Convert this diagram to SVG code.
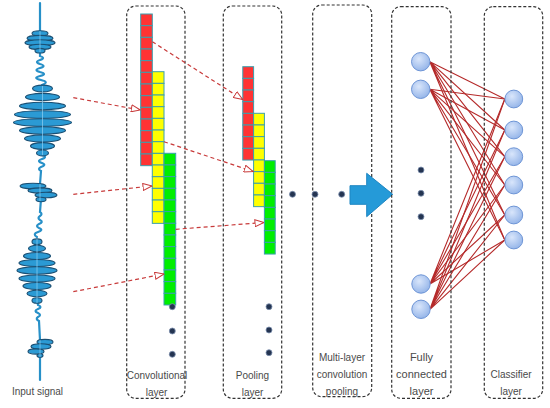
<svg xmlns="http://www.w3.org/2000/svg" width="550" height="408" viewBox="0 0 550 408">
<defs>
<style>
.box{fill:none;stroke:#333;stroke-width:1.2;stroke-dasharray:3,2}
.lbl{font-family:"Liberation Sans",Arial,sans-serif;font-size:10px;fill:#4a4a4a;text-anchor:middle}
.r{fill:#ff3333;stroke:#3a9fae;stroke-width:1}
.y{fill:#ffff00;stroke:#3a9fae;stroke-width:1}
.g{fill:#00ee00;stroke:#3a9fae;stroke-width:1}
.dot{fill:#243451;stroke:#7c8fae;stroke-width:0.8}
.node{fill:url(#ng);stroke:#6e95d6;stroke-width:1}
.fc{stroke:#b52a2a;stroke-width:1.1;fill:none}
.da{stroke:#c83a3a;stroke-width:1.2;stroke-dasharray:4,3;fill:none;marker-end:url(#tri)}
.lobe{fill:#2b9ad4;stroke:#1a4f73;stroke-width:1.1}
.wig{fill:none;stroke:#2790c8;stroke-width:2.2;stroke-linecap:round}
</style>
<radialGradient id="ng" cx="0.4" cy="0.35" r="0.7">
<stop offset="0" stop-color="#d9e6fb"/>
<stop offset="1" stop-color="#92b3e8"/>
</radialGradient>
<marker id="tri" viewBox="0 0 10 8" refX="9.5" refY="4" markerWidth="10" markerHeight="8" markerUnits="userSpaceOnUse" orient="auto">
<path d="M0.5,0.5 L9.5,4 L0.5,7.5 Z" fill="#fff" stroke="#c83a3a" stroke-width="1"/>
</marker>
</defs>
<rect width="550" height="408" fill="#fff"/>

<g id="signal">
<path class="wig" d="M40 3 V32"/>
<path class="wig" d="M40 50 L40 56 Q46 58 40 60 Q34 62 40 64 Q47 66 40 68 Q33 70 40 72 Q48 74 40 76 Q32 78 41 80 Q50 82 42 85"/>
<path class="wig" d="M42 150 L42 155 Q48 157 42 159 Q36 161 42 163 Q47 165 41 167 Q37 169 41 171 L40 184"/>
<path class="wig" d="M41 199 L40 212 Q43 214 40 216 Q37 218 40 220 Q44 222 39 224 Q35 226 39 228 Q44 230 38 232 Q32 234 37 237"/>
<path class="wig" d="M37 300 L38 305 Q43 307 38 309 Q33 311 38 313 Q42 315 38 317 Q35 319 39 321 L40 340"/>
<path class="wig" d="M40 355 V380"/>
<ellipse class="lobe" cx="40" cy="33.3" rx="8" ry="2.6"/>
<ellipse class="lobe" cx="40" cy="38.3" rx="13" ry="2.9"/>
<ellipse class="lobe" cx="40" cy="42.7" rx="15" ry="2.9"/>
<ellipse class="lobe" cx="40" cy="46.9" rx="11" ry="2.7"/>
<ellipse class="lobe" cx="40" cy="50.7" rx="5" ry="2.3"/>
<ellipse class="lobe" cx="42.5" cy="88.5" rx="10" ry="3.4"/>
<ellipse class="lobe" cx="42.5" cy="97" rx="17" ry="3.6"/>
<ellipse class="lobe" cx="42.5" cy="106" rx="23" ry="3.7"/>
<ellipse class="lobe" cx="42.5" cy="114.5" rx="28" ry="3.8"/>
<ellipse class="lobe" cx="42.5" cy="122.5" rx="29" ry="3.8"/>
<ellipse class="lobe" cx="42.5" cy="130.5" rx="23" ry="3.7"/>
<ellipse class="lobe" cx="42.5" cy="138.5" rx="18" ry="3.6"/>
<ellipse class="lobe" cx="42.5" cy="146" rx="12" ry="3.4"/>
<ellipse class="lobe" cx="42.5" cy="153" rx="6" ry="3"/>
<ellipse class="lobe" cx="33" cy="186" rx="13" ry="2.8"/>
<ellipse class="lobe" cx="40" cy="190.5" rx="12" ry="2.6"/>
<ellipse class="lobe" cx="46" cy="195" rx="11" ry="2.8"/>
<ellipse class="lobe" cx="41" cy="199.5" rx="5" ry="2.2"/>
<ellipse class="lobe" cx="37" cy="241.7" rx="5" ry="2.8"/>
<ellipse class="lobe" cx="37" cy="248.5" rx="8.5" ry="3.3"/>
<ellipse class="lobe" cx="37" cy="256" rx="13.5" ry="3.5"/>
<ellipse class="lobe" cx="37" cy="263" rx="18" ry="3.5"/>
<ellipse class="lobe" cx="37" cy="270.5" rx="20" ry="3.7"/>
<ellipse class="lobe" cx="37" cy="278.5" rx="18" ry="3.5"/>
<ellipse class="lobe" cx="37" cy="286" rx="14" ry="3.5"/>
<ellipse class="lobe" cx="37" cy="293.5" rx="10" ry="3.3"/>
<ellipse class="lobe" cx="37" cy="300.5" rx="5" ry="2.8"/>
<ellipse class="lobe" cx="45" cy="342" rx="8" ry="2.6"/>
<ellipse class="lobe" cx="41" cy="346.5" rx="10" ry="2.7"/>
<ellipse class="lobe" cx="36" cy="351.5" rx="8" ry="2.6"/>
<ellipse class="lobe" cx="40" cy="355.5" rx="3" ry="1.8"/>
<path d="M40 31 V52 M42.5 86 V155 M40 184 V201 M37 239 V303 M40 340 V357" stroke="#8fd0f2" stroke-width="0.7" fill="none"/>
<text class="lbl" x="37.5" y="395">Input signal</text>
</g>

<g id="conv-layer">
<rect class="box" x="126.7" y="6" width="58.3" height="392.3" rx="9"/>
<g>
<rect class="r" x="140.7" y="14" width="11.6" height="11.67"/>
<rect class="r" x="140.7" y="25.67" width="11.6" height="11.67"/>
<rect class="r" x="140.7" y="37.33" width="11.6" height="11.67"/>
<rect class="r" x="140.7" y="49" width="11.6" height="11.67"/>
<rect class="r" x="140.7" y="60.67" width="11.6" height="11.67"/>
<rect class="r" x="140.7" y="72.33" width="11.6" height="11.67"/>
<rect class="r" x="140.7" y="84" width="11.6" height="11.67"/>
<rect class="r" x="140.7" y="95.67" width="11.6" height="11.67"/>
<rect class="r" x="140.7" y="107.33" width="11.6" height="11.67"/>
<rect class="r" x="140.7" y="119" width="11.6" height="11.67"/>
<rect class="r" x="140.7" y="130.67" width="11.6" height="11.67"/>
<rect class="r" x="140.7" y="142.33" width="11.6" height="11.67"/>
<rect class="r" x="140.7" y="154" width="11.6" height="11.67"/>
</g>
<g>
<rect class="y" x="152.3" y="71.7" width="11.7" height="11.67"/>
<rect class="y" x="152.3" y="83.37" width="11.7" height="11.67"/>
<rect class="y" x="152.3" y="95.03" width="11.7" height="11.67"/>
<rect class="y" x="152.3" y="106.7" width="11.7" height="11.67"/>
<rect class="y" x="152.3" y="118.37" width="11.7" height="11.67"/>
<rect class="y" x="152.3" y="130.03" width="11.7" height="11.67"/>
<rect class="y" x="152.3" y="141.7" width="11.7" height="11.67"/>
<rect class="y" x="152.3" y="153.37" width="11.7" height="11.67"/>
<rect class="y" x="152.3" y="165.03" width="11.7" height="11.67"/>
<rect class="y" x="152.3" y="176.7" width="11.7" height="11.67"/>
<rect class="y" x="152.3" y="188.37" width="11.7" height="11.67"/>
<rect class="y" x="152.3" y="200.03" width="11.7" height="11.67"/>
<rect class="y" x="152.3" y="211.7" width="11.7" height="11.67"/>
</g>
<g>
<rect class="g" x="164" y="153.3" width="11.7" height="11.67"/>
<rect class="g" x="164" y="164.97" width="11.7" height="11.67"/>
<rect class="g" x="164" y="176.63" width="11.7" height="11.67"/>
<rect class="g" x="164" y="188.3" width="11.7" height="11.67"/>
<rect class="g" x="164" y="199.97" width="11.7" height="11.67"/>
<rect class="g" x="164" y="211.63" width="11.7" height="11.67"/>
<rect class="g" x="164" y="223.3" width="11.7" height="11.67"/>
<rect class="g" x="164" y="234.97" width="11.7" height="11.67"/>
<rect class="g" x="164" y="246.63" width="11.7" height="11.67"/>
<rect class="g" x="164" y="258.3" width="11.7" height="11.67"/>
<rect class="g" x="164" y="269.97" width="11.7" height="11.67"/>
<rect class="g" x="164" y="281.63" width="11.7" height="11.67"/>
<rect class="g" x="164" y="293.3" width="11.7" height="11.67"/>
</g>
<circle class="dot" cx="172.3" cy="306.7" r="3"/>
<circle class="dot" cx="172.3" cy="331" r="3"/>
<circle class="dot" cx="172.3" cy="354.3" r="3"/>
<text class="lbl" x="157" y="379">Convolutional</text>
<text class="lbl" x="156.5" y="396">layer</text>
</g>

<g id="pool-layer">
<rect class="box" x="223.3" y="6" width="58.4" height="392.3" rx="9"/>
<g>
<rect class="r" x="242.8" y="66.7" width="10.8" height="11.67"/>
<rect class="r" x="242.8" y="78.37" width="10.8" height="11.67"/>
<rect class="r" x="242.8" y="90.03" width="10.8" height="11.67"/>
<rect class="r" x="242.8" y="101.7" width="10.8" height="11.67"/>
<rect class="r" x="242.8" y="113.37" width="10.8" height="11.67"/>
<rect class="r" x="242.8" y="125.03" width="10.8" height="11.67"/>
<rect class="r" x="242.8" y="136.7" width="10.8" height="11.67"/>
<rect class="r" x="242.8" y="148.37" width="10.8" height="11.67"/>
</g>
<g>
<rect class="y" x="253.6" y="113.3" width="10.8" height="11.67"/>
<rect class="y" x="253.6" y="124.97" width="10.8" height="11.67"/>
<rect class="y" x="253.6" y="136.63" width="10.8" height="11.67"/>
<rect class="y" x="253.6" y="148.3" width="10.8" height="11.67"/>
<rect class="y" x="253.6" y="159.97" width="10.8" height="11.67"/>
<rect class="y" x="253.6" y="171.63" width="10.8" height="11.67"/>
<rect class="y" x="253.6" y="183.3" width="10.8" height="11.67"/>
<rect class="y" x="253.6" y="194.97" width="10.8" height="11.67"/>
</g>
<g>
<rect class="g" x="264.4" y="160.7" width="10.8" height="11.67"/>
<rect class="g" x="264.4" y="172.37" width="10.8" height="11.67"/>
<rect class="g" x="264.4" y="184.03" width="10.8" height="11.67"/>
<rect class="g" x="264.4" y="195.7" width="10.8" height="11.67"/>
<rect class="g" x="264.4" y="207.37" width="10.8" height="11.67"/>
<rect class="g" x="264.4" y="219.03" width="10.8" height="11.67"/>
<rect class="g" x="264.4" y="230.7" width="10.8" height="11.67"/>
<rect class="g" x="264.4" y="242.37" width="10.8" height="11.67"/>
</g>
<circle class="dot" cx="269" cy="306.7" r="3"/>
<circle class="dot" cx="269" cy="330" r="3"/>
<circle class="dot" cx="269" cy="352.7" r="3"/>
<text class="lbl" x="252.5" y="379">Pooling</text>
<text class="lbl" x="252.5" y="396">layer</text>
</g>

<g id="multi-layer">
<rect class="box" x="312.7" y="5" width="59" height="391.7" rx="9"/>
<circle class="dot" cx="292.5" cy="194.3" r="3"/>
<circle class="dot" cx="315" cy="194.3" r="3"/>
<circle class="dot" cx="341.7" cy="194.3" r="3"/>
<text class="lbl" x="342" y="361">Multi-layer</text>
<text class="lbl" x="342" y="378">convolution</text>
<text class="lbl" x="342" y="395">pooling</text>
</g>

<g id="big-arrow">
<polygon points="350,185.7 366.7,185.7 366.7,173.3 392.7,194.3 366.7,216.7 366.7,204.3 350,204.3" fill="#259ad8" stroke="#1f86c2" stroke-width="1"/>
</g>

<g id="connectors">
<line class="da" x1="73.3" y1="97.7" x2="140.3" y2="110"/>
<line class="da" x1="73.3" y1="194.3" x2="152" y2="186"/>
<line class="da" x1="73.3" y1="291.7" x2="164" y2="274"/>
<line class="da" x1="152.3" y1="41.7" x2="242.7" y2="99.5"/>
<line class="da" x1="164" y1="141.7" x2="253.2" y2="171.5"/>
<line class="da" x1="175.7" y1="229.3" x2="264" y2="222.5"/>
<g>
<path class="fc" d="M429.8 61.7 L504.8 99 M429.8 61.7 L504.8 130 M429.8 61.7 L504.8 156.7 M429.8 61.7 L504.8 185 M429.8 61.7 L504.8 215 M429.8 61.7 L504.8 240"/>
<path class="fc" d="M429.8 89.3 L504.8 99 M429.8 89.3 L504.8 130 M429.8 89.3 L504.8 156.7 M429.8 89.3 L504.8 185 M429.8 89.3 L504.8 215 M429.8 89.3 L504.8 240"/>
<path class="fc" d="M430 284 L504.8 99 M430 284 L504.8 130 M430 284 L504.8 156.7 M430 284 L504.8 185 M430 284 L504.8 215 M430 284 L504.8 240"/>
<path class="fc" d="M430 309.3 L504.8 99 M430 309.3 L504.8 130 M430 309.3 L504.8 156.7 M430 309.3 L504.8 185 M430 309.3 L504.8 215 M430 309.3 L504.8 240"/>
</g>
</g>

<g id="fc-layer">
<rect class="box" x="391.7" y="6.7" width="59.3" height="391.6" rx="9"/>
<circle class="node" cx="420.7" cy="61.7" r="9.2"/>
<circle class="node" cx="420.7" cy="89.3" r="9.2"/>
<circle class="node" cx="421" cy="284" r="9.2"/>
<circle class="node" cx="421" cy="309.3" r="9.2"/>
<circle class="dot" cx="421" cy="170" r="3"/>
<circle class="dot" cx="421" cy="193.3" r="3"/>
<circle class="dot" cx="421" cy="216.7" r="3"/>
<text class="lbl" style="font-size:11px" x="421.5" y="361">Fully</text>
<text class="lbl" style="font-size:11px" x="421.5" y="378">connected</text>
<text class="lbl" style="font-size:11px" x="421.5" y="395">layer</text>
</g>

<g id="classifier-layer">
<rect class="box" x="484.3" y="6.7" width="58.4" height="391.6" rx="9"/>
<circle class="node" cx="513.8" cy="99" r="8.9"/>
<circle class="node" cx="513.8" cy="130" r="8.9"/>
<circle class="node" cx="513.8" cy="156.7" r="8.9"/>
<circle class="node" cx="513.8" cy="185" r="8.9"/>
<circle class="node" cx="513.8" cy="215" r="8.9"/>
<circle class="node" cx="513.8" cy="240" r="8.9"/>
<text class="lbl" x="511" y="378">Classifier</text>
<text class="lbl" x="511" y="395">layer</text>
</g>
</svg>
